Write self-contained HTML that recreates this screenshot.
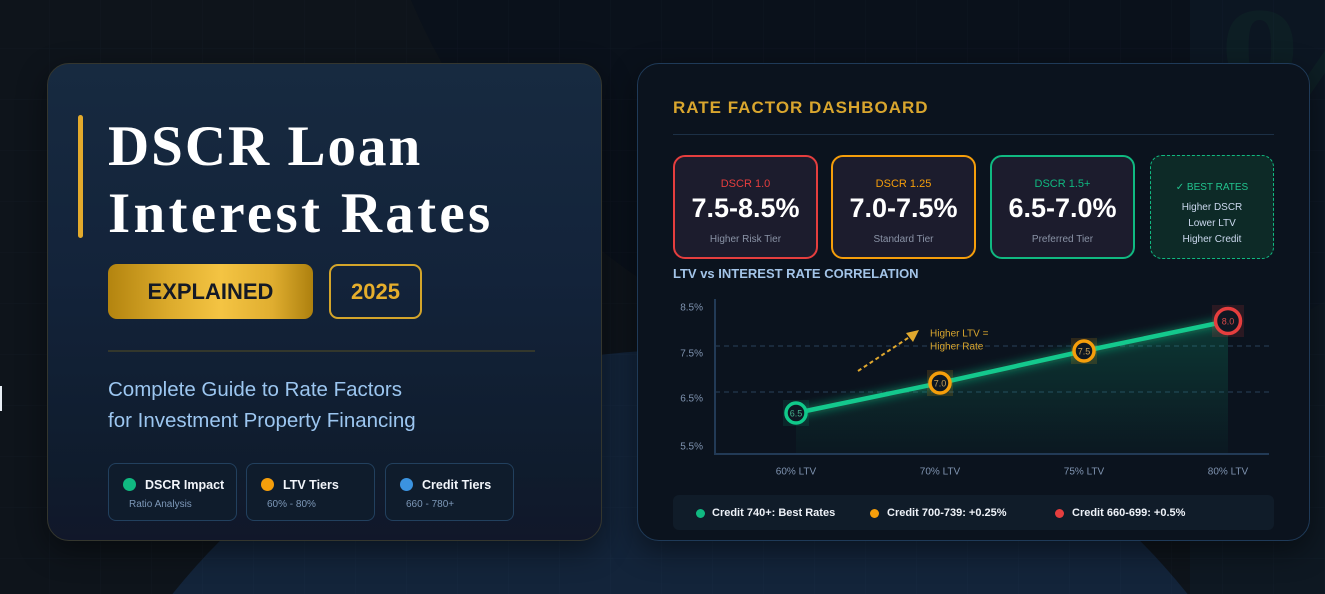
<!DOCTYPE html>
<html><head><meta charset="utf-8">
<style>
*{margin:0;padding:0;box-sizing:border-box}
html,body{width:1325px;height:594px;overflow:hidden;background:#0e141b;font-family:"Liberation Sans",Arial,sans-serif}
.a{position:absolute}
.card{position:absolute;border-radius:22px}
.feat{position:absolute;top:463px;width:129px;height:58px;border:1px solid #22405e;border-radius:8px;background:#0f1c2c}
.feat .dot{position:absolute;left:14px;top:14px;width:13px;height:13px;border-radius:50%}
.feat .t{position:absolute;left:36px;top:13px;font-size:12.5px;line-height:16px;font-weight:bold;color:#f2f5fa;white-space:nowrap}
.feat .s{position:absolute;left:20px;top:35px;font-size:10px;line-height:12px;color:#7d98b8;white-space:nowrap}
.stat{position:absolute;top:155px;height:104px;width:145px;border:2px solid;border-radius:12px;background:#1c1c2d;text-align:center}
.stat .l{position:absolute;left:0;right:0;top:20px;font-size:11px;line-height:14px}
.stat .v{position:absolute;left:0;right:0;top:36px;font-size:27px;line-height:30px;font-weight:bold;color:#fff}
.stat .d{position:absolute;left:0;right:0;top:77px;font-size:10px;line-height:12px;color:#8a93a6}
.leg{position:absolute;top:506px;font-size:11px;line-height:14px;font-weight:bold;color:#eef2f8;white-space:nowrap}
.ld{position:absolute;top:509px;width:9px;height:9px;border-radius:50%}
</style></head><body>

<svg class="a" style="left:0;top:0" width="1325" height="594">
  <defs>
    <pattern id="grid" width="51" height="51" patternUnits="userSpaceOnUse" x="-2" y="-3">
      <path d="M51 0 L0 0 0 51" fill="none" stroke="rgba(120,160,200,0.04)" stroke-width="1"/>
    </pattern>
  </defs>
  <rect width="1325" height="594" fill="#0e141b"/>
  <path d="M411,0 A640,640 0 0,0 1325,301 L1325,0 Z" fill="#0a111b"/>
  <path d="M172.4,594 A650,650 0 0,1 1187.6,594 Z" fill="#13243a"/>
  <rect x="1190" y="0" width="135" height="594" fill="#0f1b28" opacity="0.55"/>
  <text x="1205" y="150" font-family="Liberation Serif, serif" font-weight="bold" font-size="210" fill="#0f2626" opacity="0.55">%</text>
  <rect width="1325" height="594" fill="url(#grid)"/>
  <rect x="0" y="386" width="2" height="25" fill="#e8eef5"/>
</svg>

<!-- LEFT CARD -->
<div class="card" style="left:47px;top:63px;width:555px;height:478px;background:linear-gradient(180deg,#172a40 0%,#13233a 45%,#0f1c2d 85%,#11172a 100%);border:1px solid #34362e;box-shadow:0 10px 30px rgba(0,0,0,0.45)"></div>
<div class="a" style="left:78px;top:115px;width:5px;height:123px;border-radius:3px;background:#e3aa2c"></div>
<div class="a" style="left:108px;top:118px;font-family:'Liberation Serif',serif;font-weight:bold;font-size:57px;line-height:57px;color:#fff;letter-spacing:2px;white-space:nowrap">DSCR Loan</div>
<div class="a" style="left:108px;top:185px;font-family:'Liberation Serif',serif;font-weight:bold;font-size:57px;line-height:57px;color:#fff;letter-spacing:3.3px;white-space:nowrap">Interest Rates</div>

<div class="a" style="left:108px;top:264px;width:205px;height:55px;border-radius:9px;background:linear-gradient(90deg,#b3840f 0%,#dcab2c 30%,#f4c443 55%,#e0ae30 80%,#ad800e 100%);text-align:center;font-size:22px;line-height:55px;font-weight:bold;color:#141a26">EXPLAINED</div>
<div class="a" style="left:329px;top:264px;width:93px;height:55px;border-radius:9px;border:2px solid #d4a52a;text-align:center;font-size:22px;line-height:51px;font-weight:bold;color:#e6ae2c">2025</div>

<div class="a" style="left:108px;top:350px;width:427px;height:2px;background:#33372c"></div>

<div class="a" style="left:108px;top:374px;font-size:20.5px;line-height:31px;color:#9cc6f0;white-space:nowrap">Complete Guide to Rate Factors<br>for Investment Property Financing</div>

<div class="feat" style="left:108px"><div class="dot" style="background:#10b981"></div><div class="t">DSCR Impact</div><div class="s">Ratio Analysis</div></div>
<div class="feat" style="left:246px"><div class="dot" style="background:#f59e0b"></div><div class="t">LTV Tiers</div><div class="s">60% - 80%</div></div>
<div class="feat" style="left:385px"><div class="dot" style="background:#3b93e0"></div><div class="t">Credit Tiers</div><div class="s">660 - 780+</div></div>

<!-- RIGHT CARD -->
<div class="card" style="left:637px;top:63px;width:673px;height:478px;background:#0b131e;border:1px solid #1f3a58;box-shadow:0 10px 30px rgba(0,0,0,0.45)"></div>
<div class="a" style="left:673px;top:98px;font-size:17px;line-height:20px;font-weight:bold;color:#d9a62e;letter-spacing:1px;white-space:nowrap">RATE FACTOR DASHBOARD</div>
<div class="a" style="left:673px;top:134px;width:601px;height:1px;background:#1c3046"></div>

<div class="stat" style="left:673px;border-color:#e53e3e"><div class="l" style="color:#e53e3e">DSCR 1.0</div><div class="v">7.5-8.5%</div><div class="d">Higher Risk Tier</div></div>
<div class="stat" style="left:831px;border-color:#f59e0b"><div class="l" style="color:#f59e0b">DSCR 1.25</div><div class="v">7.0-7.5%</div><div class="d">Standard Tier</div></div>
<div class="stat" style="left:990px;border-color:#10b981"><div class="l" style="color:#10b981">DSCR 1.5+</div><div class="v">6.5-7.0%</div><div class="d">Preferred Tier</div></div>
<div class="a" style="left:1150px;top:155px;width:124px;height:104px;border:1.5px dashed #10b981;border-radius:12px;background:#0d2a27;text-align:center">
  <div class="a" style="left:0;right:0;top:26px;font-size:10px;line-height:12px;color:#22c38e">✓ BEST RATES</div>
  <div class="a" style="left:0;right:0;top:46px;font-size:10px;line-height:12px;color:#cbd8ee">Higher DSCR</div>
  <div class="a" style="left:0;right:0;top:62px;font-size:10px;line-height:12px;color:#cbd8ee">Lower LTV</div>
  <div class="a" style="left:0;right:0;top:78px;font-size:10px;line-height:12px;color:#cbd8ee">Higher Credit</div>
</div>

<div class="a" style="left:673px;top:266px;font-size:13px;line-height:16px;font-weight:bold;color:#a3c4e8;white-space:nowrap">LTV vs INTEREST RATE CORRELATION</div>

<svg class="a" style="left:0;top:0" width="1325" height="594">
  <defs>
    <linearGradient id="ar" x1="0" y1="0" x2="0" y2="1" gradientUnits="objectBoundingBox">
      <stop offset="0" stop-color="#10b981" stop-opacity="0.22"/>
      <stop offset="1" stop-color="#10b981" stop-opacity="0.03"/>
    </linearGradient>
    <filter id="glow" x="-20%" y="-50%" width="140%" height="200%"><feGaussianBlur stdDeviation="4"/></filter>
  </defs>
  <line x1="715" y1="346" x2="1269" y2="346" stroke="#1f3347" stroke-width="1.5" stroke-dasharray="5 4"/>
  <line x1="715" y1="392" x2="1269" y2="392" stroke="#1f3347" stroke-width="1.5" stroke-dasharray="5 4"/>
  <polygon points="796,413 940,383 1084,351 1228,321 1228,453 796,453" fill="url(#ar)"/>
  <line x1="715" y1="299" x2="715" y2="454" stroke="#223a56" stroke-width="2"/>
  <line x1="714" y1="454" x2="1269" y2="454" stroke="#223a56" stroke-width="2"/>
  <g font-family="Liberation Sans, Arial, sans-serif" font-size="10" fill="#7f93b0" text-anchor="end">
    <text x="703" y="310.6">8.5%</text>
    <text x="703" y="356.6">7.5%</text>
    <text x="703" y="401.6">6.5%</text>
    <text x="703" y="449.6">5.5%</text>
  </g>
  <g font-family="Liberation Sans, Arial, sans-serif" font-size="10" fill="#7f93b0" text-anchor="middle">
    <text x="796" y="474.6">60% LTV</text>
    <text x="940" y="474.6">70% LTV</text>
    <text x="1084" y="474.6">75% LTV</text>
    <text x="1228" y="474.6">80% LTV</text>
  </g>
  <polyline points="796,413 940,383 1084,351 1228,321" fill="none" stroke="#10c98a" stroke-width="10" stroke-opacity="0.35" filter="url(#glow)"/>
  <polyline points="796,413 940,383 1084,351 1228,321" fill="none" stroke="#14c98d" stroke-width="4.5" stroke-linecap="round"/>
  <rect x="783" y="400" width="26" height="26" fill="#10b981" opacity="0.12"/>
  <rect x="927" y="370" width="26" height="26" fill="#f59e0b" opacity="0.15"/>
  <rect x="1071" y="338" width="26" height="26" fill="#f59e0b" opacity="0.15"/>
  <rect x="1212" y="305" width="32" height="32" fill="#e53e3e" opacity="0.15"/>
  <circle cx="796" cy="413" r="10" fill="#0e1722" stroke="#10c98a" stroke-width="3.5"/>
  <circle cx="940" cy="383" r="10" fill="#0e1722" stroke="#f59e0b" stroke-width="3.5"/>
  <circle cx="1084" cy="351" r="10" fill="#0e1722" stroke="#f59e0b" stroke-width="3.5"/>
  <circle cx="1228" cy="321" r="12.5" fill="#0e1722" stroke="#e53e3e" stroke-width="3.5"/>
  <g font-family="Liberation Sans, Arial, sans-serif" font-size="9" text-anchor="middle">
    <text x="796" y="416.3" fill="#45b08c">6.5</text>
    <text x="940" y="386.3" fill="#c9a15a">7.0</text>
    <text x="1084" y="354.3" fill="#c9a15a">7.5</text>
    <text x="1228" y="324.3" fill="#d84a4a">8.0</text>
  </g>
  <line x1="858" y1="371" x2="911" y2="336" stroke="#e0a82e" stroke-width="2" stroke-dasharray="4 3"/>
  <polygon points="919,330 906,333 913,342" fill="#e0a82e"/>
  <g font-family="Liberation Sans, Arial, sans-serif" font-size="10" fill="#d9a62e">
    <text x="930" y="336.6">Higher LTV =</text>
    <text x="930" y="349.6">Higher Rate</text>
  </g>
</svg>

<div class="a" style="left:673px;top:495px;width:601px;height:35px;border-radius:6px;background:#101c29"></div>
<div class="ld" style="left:696px;background:#10b981"></div><div class="leg" style="left:712px">Credit 740+: Best Rates</div>
<div class="ld" style="left:870px;background:#f59e0b"></div><div class="leg" style="left:887px">Credit 700-739: +0.25%</div>
<div class="ld" style="left:1055px;background:#e53e3e"></div><div class="leg" style="left:1072px">Credit 660-699: +0.5%</div>

</body></html>
